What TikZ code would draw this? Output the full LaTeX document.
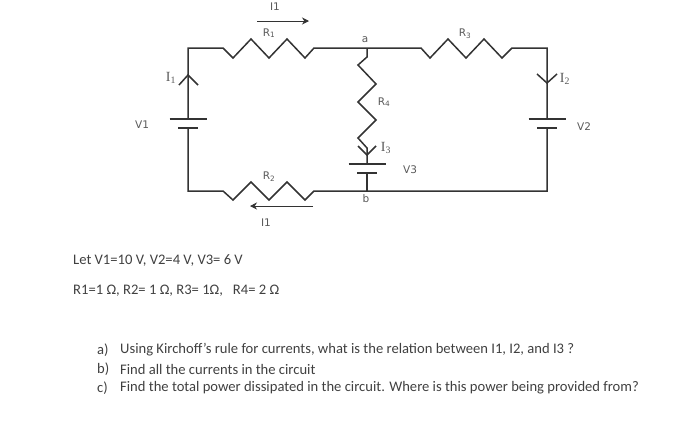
\documentclass[tikz,border=0pt]{standalone}
\usepackage{fontspec}
\setmainfont{Carlito}
\newfontfamily\labelfont{DejaVu Sans}
\newfontfamily\currfont{Liberation Serif}
\usetikzlibrary{arrows.meta}
\tikzset{
	wire/.style={draw=black!80,line width=1.5pt,line join=miter},
	plate/.style={draw=black!80,line width=1.5pt},
	flow/.style={draw=black!80,line width=.8pt,-{Stealth[length=7pt,width=7pt]}},
	lab/.style={inner sep=0pt,text=black!65,font=\labelfont\fontsize{10.5}{12}\selectfont},
	curr/.style={inner sep=0pt,text=black!65,font=\currfont\fontsize{14}{16}\selectfont},
	txt/.style={inner sep=0pt,anchor=west,text=black!75,font=\fontsize{14.6}{17}\selectfont}
}
\begin{document}
\begin{tikzpicture}[x=1pt,y=-1pt]
	\useasboundingbox (0,0) rectangle (674,437);
	
	% corners and junctions
	\coordinate (tl) at (188,48); \coordinate (bl) at (188,191);
	\coordinate (tr) at (547,48); \coordinate (br) at (547,191);
	\coordinate (a) at (367,48); \coordinate (b) at (367,191);
	
	% batteries
	\coordinate (v1l) at (188,119); \coordinate (v1s) at (188,128);
	\coordinate (v2l) at (547,119); \coordinate (v2s) at (547,128);
	\coordinate (v3l) at (367,164); \coordinate (v3s) at (367,173);
	\draw[plate] ([xshift=-18.5pt]v1l) -- ([xshift=18.5pt]v1l);
	\draw[plate] ([xshift=-10pt]v1s) -- ([xshift=10pt]v1s);
	\draw[plate] ([xshift=-18.5pt]v2l) -- ([xshift=18.5pt]v2l);
	\draw[plate] ([xshift=-10pt]v2s) -- ([xshift=10pt]v2s);
	\draw[plate] ([xshift=-18.5pt]v3l) -- ([xshift=18.5pt]v3l);
	\draw[plate] ([xshift=-10pt]v3s) -- ([xshift=10pt]v3s);
	
	% outer loop with resistors
	\draw[wire] (v1l) -- (tl) -- (223,48) -- ++(10,10) -- ++(18,-19) -- ++(18,19) -- ++(18,-19) -- ++(18,19) -- ++(9,-10)
		-- (a) -- (421,48) -- ++(9,10) -- ++(18,-19) -- ++(18,19) -- ++(18,-19) -- ++(18,19) -- ++(10,-10)
		-- (tr) -- (v2l);
	\draw[wire] (v2s) -- (br) -- (b) -- (314,191) -- ++(-9,9) -- ++(-18,-18) -- ++(-18,18) -- ++(-18,-18) -- ++(-18,18) -- ++(-10,-9)
		-- (bl) -- (v1s);
	
	% middle branch
	\draw[wire] (a) -- ++(0,9) -- ++(-9,8) -- ++(18,19) -- ++(-18,18) -- ++(18,18) -- ++(-18,18) -- ++(9,10) -- (v3l);
	\draw[wire] (v3s) -- (b);
	
	% current marks
	\draw[wire] (179,85) -- (188,75) -- (198,85);
	\draw[wire] (537,74) -- (547,83) -- (557,74);
	\draw[wire] (358,146) -- (367,155) -- (376,146);
	
	\coordinate (f1a) at (257,21); \coordinate (f1b) at (309,21);
	\coordinate (f2a) at (313,206); \coordinate (f2b) at (250,206);
	\draw[flow] (f1a) -- (f1b);
	\draw[flow] (f2a) -- (f2b);
	
	% labels
	\node[lab] (i1top) at (275,7) {I1};
	\node[lab] (r1) at (269,33) {R\textsubscript{1}};
	\node[lab] (na) at (365,40) {a};
	\node[lab] (r3) at (465,34) {R\textsubscript{3}};
	\node[curr] (c1) at (171,78) {I\textsubscript{1}};
	\node[curr] (c2) at (565,79) {I\textsubscript{2}};
	\node[curr] (c3) at (386,148) {I\textsubscript{3}};
	\node[lab] (n1) at (142,125) {V1};
	\node[lab] (n2) at (584,127) {V2};
	\node[lab] (n3) at (410,170) {V3};
	\node[lab] (r4) at (384,102) {R\textsubscript{4}};
	\node[lab] (r2) at (269,177) {R\textsubscript{2}};
	\node[lab] (nb) at (366,199) {b};
	\node[lab] (i1bot) at (266,223) {I1};
	
	% text
	\node[txt] (given1) at (73,260) {Let V1=10 V, V2=4 V, V3= 6 V};
	\node[txt] (given2) at (73,291) {R1=1 Ω, R2= 1 Ω, R3= 1Ω,\ \ \ R4= 2 Ω};
	\node[txt] (qa) at (97,350) {a)};
	\node[txt] (qb) at (97,369) {b)};
	\node[txt] (qc) at (97,388) {c)};
	\node[txt] (ta) at (120,350) {Using Kirchoff's rule for currents, what is the relation between I1, I2, and I3 ?};
	\node[txt] (tb) at (120,369) {Find all the currents in the circuit};
	\node[txt] (tc) at (120,388) {Find the total power dissipated in the circuit. Where is this power being provided from?};
\end{tikzpicture}
\end{document}
